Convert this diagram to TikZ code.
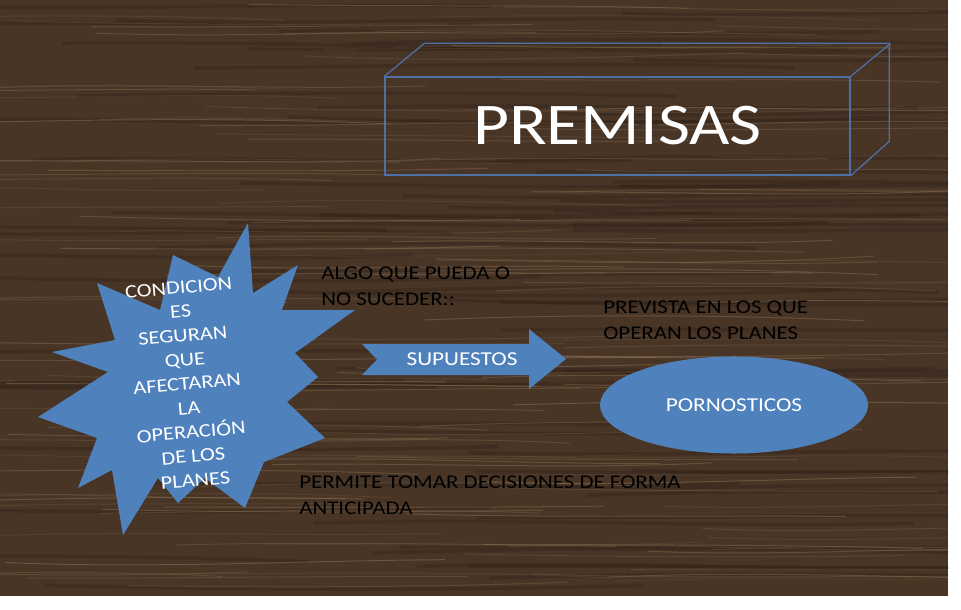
\documentclass[tikz,border=0pt]{standalone}
\usepackage{fontspec}
\setmainfont{Carlito}[FakeStretch=1.18]
\usetikzlibrary{shapes.geometric}

\definecolor{wood}{RGB}{72,53,38}
\definecolor{grain}{RGB}{155,127,95}
\definecolor{darkgrain}{RGB}{45,32,22}
\definecolor{officeblue}{RGB}{79,129,189}
\definecolor{boxline}{RGB}{78,112,165}

\tikzset{
  note/.style={anchor=base west, align=left, inner sep=0pt, text=black,
    font=\fontsize{13.8}{18.4}\selectfont},
  shapetext/.style={text=white, inner sep=0pt, font=\fontsize{14}{17}\selectfont},
  boxedge/.style={draw=boxline, line width=0.9pt},
}

\begin{document}
\begin{tikzpicture}[x=0.025cm, y=-0.025cm]
  \useasboundingbox (0,0) rectangle (961,610);
  \fill[white] (0,0) rectangle (961,610);
  \fill[wood] (0,0) rectangle (948,596);

  % wood grain
  \begin{scope}
    \clip (0,0) rectangle (948,596);
    \pgfmathsetseed{12}
    \foreach \i in {1,...,70}{
      \pgfmathsetmacro\gy{rnd*600}
      \pgfmathsetmacro\gx{rnd*950}
      \pgfmathsetmacro\gu{\gy+(rnd-0.5)*16}
      \pgfmathsetmacro\gv{\gy+(rnd-0.5)*16}
      \draw[darkgrain, opacity=0.35, line width=2.5pt]
        (\gx-300,\gy) .. controls (\gx-100,\gu) and (\gx+100,\gv) .. (\gx+300,\gy);
    }
    \foreach \i in {1,...,140}{
      \pgfmathsetmacro\gy{rnd*600}
      \pgfmathsetmacro\gx{rnd*950}
      \pgfmathsetmacro\gu{\gy+(rnd-0.5)*14}
      \pgfmathsetmacro\gv{\gy+(rnd-0.5)*14}
      \pgfmathsetmacro\gw{\gy+(rnd-0.5)*8}
      \pgfmathsetmacro\go{0.12+rnd*0.3}
      \draw[grain, opacity=\go, line width=0.7pt]
        (\gx-220,\gy) .. controls (\gx-80,\gu) and (\gx+80,\gv) .. (\gx+220,\gw);
    }
  \end{scope}

  % title box
  \node[boxedge, minimum width=11.625cm, minimum height=2.45cm, inner sep=0pt,
        text=white, font=\fontsize{42}{46}\selectfont] (premisas) at (617.5,126) {PREMISAS};
  \draw[boxedge] (premisas.north west) -- ++(40,-33) -- ++(465,0) -- ++(0,98)
    -- (premisas.south east);
  \draw[boxedge] (premisas.north east) -- ++(40,-33);

  % star
  \fill[officeblue] (248,223) -- (253,293) -- (298,265) -- (282,310) -- (355,310)
    -- (295,353) -- (318,377) -- (287,402) -- (325,438) -- (264,462) -- (245,508)
    -- (205,478) -- (178,503) -- (158,478) -- (123,535) -- (112,470) -- (78,488)
    -- (97,438) -- (38,417) -- (108,372) -- (52,352) -- (115,340) -- (97,283)
    -- (160,310) -- (173,255) -- (218,277) -- cycle;
  \node[shapetext, align=center, rotate=5, font=\fontsize{13.5}{17.2}\selectfont]
    (condicion) at (187,384)
    {CONDICION\\ES\\SEGURAN\\QUE\\AFECTARAN\\LA\\OPERACIÓN\\DE LOS\\PLANES};

  % arrow
  \fill[officeblue] (362,344) -- (529,344) -- (529,329) -- (566,359) -- (529,389)
    -- (529,375) -- (362,375) -- (377,359.5) -- cycle;
  \node[shapetext] (supuestos) at (462,359) {SUPUESTOS};

  % ellipse
  \node[ellipse, fill=officeblue, shapetext, minimum width=6.7cm, minimum height=2.425cm]
    (pronosticos) at (734,405) {PORNOSTICOS};

  % notes (base = last line)
  \node[note] (algo) at (321,305) {ALGO QUE PUEDA O\\NO SUCEDER::};
  \node[note] (prevista) at (603,339) {PREVISTA EN LOS QUE\\OPERAN LOS PLANES};
  \node[note] (permite) at (299,514) {PERMITE TOMAR DECISIONES DE FORMA\\ANTICIPADA};
\end{tikzpicture}
\end{document}
